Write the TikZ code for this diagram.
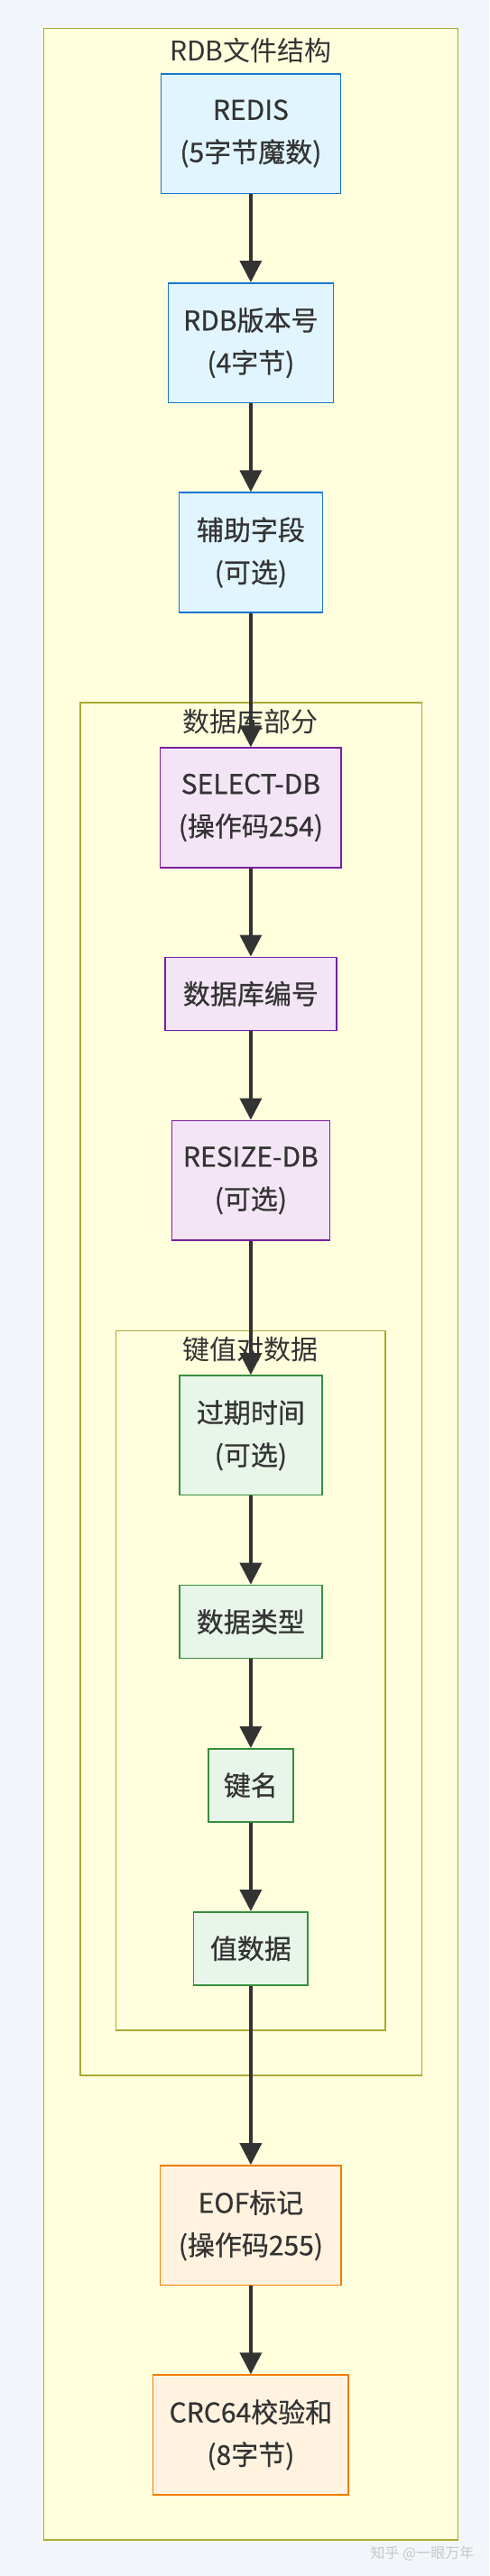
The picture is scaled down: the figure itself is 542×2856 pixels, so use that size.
\documentclass[tikz,border=0pt]{standalone}
\usepackage{fontspec}
\setmainfont{Noto Sans CJK SC}
\newfontfamily\fieldfont{Noto Sans CJK SC}[FakeBold=0.6]
\usetikzlibrary{arrows.meta}

\definecolor{bgpage}{HTML}{F2F6FA}
\definecolor{clusterfill}{HTML}{FFFFDE}
\definecolor{clusterline}{HTML}{AAAA33}
\definecolor{inkdark}{HTML}{333333}
\definecolor{headfill}{HTML}{E1F5FE}
\definecolor{headline}{HTML}{1976D2}
\definecolor{dbfill}{HTML}{F3E5F5}
\definecolor{dbline}{HTML}{7B1FA2}
\definecolor{kvfill}{HTML}{E8F5E9}
\definecolor{kvline}{HTML}{388E3C}
\definecolor{tailfill}{HTML}{FFF3E0}
\definecolor{tailline}{HTML}{F57C00}

\begin{document}
\begin{tikzpicture}[
    x=1pt, y=-1pt,
    % Clean styles
    cluster/.style={
        rectangle,
        draw=clusterline,
        fill=clusterfill,
        line width=1.5pt,
        inner sep=0pt
    },
    title/.style={
        font=\fontsize{30}{36}\selectfont,
        text=inkdark
    },
    field/.style={
        rectangle,
        line width=1.6pt,
        minimum height=81pt,
        inner sep=0pt,
        align=center,
        font=\fieldfont\fontsize{30}{47}\selectfont,
        text=inkdark
    },
    tall/.style={minimum height=132.6pt},
    headbox/.style={field, draw=headline, fill=headfill},
    dbbox/.style={field, draw=dbline, fill=dbfill},
    kvbox/.style={field, draw=kvline, fill=kvfill},
    tailbox/.style={field, draw=tailline, fill=tailfill},
    arrow/.style={
        -{Triangle[length=24pt, width=24pt]},
        line width=3.6pt,
        inkdark
    },
    watermark/.style={
        font=\fontsize{16}{18}\selectfont,
        text=black!22
    }
]

% === Page ===
\fill[bgpage] (0, 0) rectangle (542, 2856);

% === Clusters ===
\node[cluster, minimum width=459pt, minimum height=2784.6pt] (rdbfile) at (277.9, 1423.6) {};
\node[title] (rdbtitle) at (277.9, 55.8) {RDB文件结构};

\node[cluster, minimum width=378.5pt, minimum height=1521.8pt] (dbpart) at (278, 1539.9) {};
\node[title] (dbtitle) at (277.9, 800.5) {数据库部分};

\node[cluster, minimum width=298.6pt, minimum height=775.5pt] (kvpart) at (277.9, 1863.3) {};
\node[title] (kvtitle) at (277.9, 1496) {键值对数据};

% === Top: header fields ===
\node[headbox, tall, minimum width=199pt] (redis) at (277.9, 148) {REDIS\\(5字节魔数)};
\node[headbox, tall, minimum width=183pt] (version) at (277.9, 380.1) {RDB版本号\\(4字节)};
\node[headbox, tall, minimum width=159pt] (aux) at (277.9, 612.5) {辅助字段\\(可选)};

% === Middle: database section ===
\node[dbbox, tall, minimum width=200.5pt] (selectdb) at (277.9, 895.4) {SELECT-DB\\(操作码254)};
\node[dbbox, minimum width=190.4pt] (dbnum) at (277.9, 1101.8) {数据库编号};
\node[dbbox, tall, minimum width=175pt] (resizedb) at (277.9, 1308.7) {RESIZE-DB\\(可选)};

% === Key-value data ===
\node[kvbox, tall, minimum width=158.3pt] (expire) at (277.9, 1591.3) {过期时间\\(可选)};
\node[kvbox, minimum width=158.3pt] (vtype) at (277.9, 1798) {数据类型};
\node[kvbox, minimum width=94.4pt] (keyname) at (277.9, 1979.3) {键名};
\node[kvbox, minimum width=126.5pt] (value) at (277.9, 2160.3) {值数据};

% === Bottom: trailer ===
\node[tailbox, tall, minimum width=200.5pt] (eof) at (277.9, 2467.2) {EOF标记\\(操作码255)};
\node[tailbox, tall, minimum width=216.7pt] (crc) at (277.9, 2699.4) {CRC64校验和\\(8字节)};

% === Arrows ===
\draw[arrow] (redis) -- (version);
\draw[arrow] (version) -- (aux);
\draw[arrow] (aux) -- (selectdb);
\draw[arrow] (selectdb) -- (dbnum);
\draw[arrow] (dbnum) -- (resizedb);
\draw[arrow] (resizedb) -- (expire);
\draw[arrow] (expire) -- (vtype);
\draw[arrow] (vtype) -- (keyname);
\draw[arrow] (keyname) -- (value);
\draw[arrow] (value) -- (eof);
\draw[arrow] (eof) -- (crc);

% === Watermark ===
\node[watermark] (credit) at (468, 2831) {知乎 @一眼万年};

\end{tikzpicture}
\end{document}
